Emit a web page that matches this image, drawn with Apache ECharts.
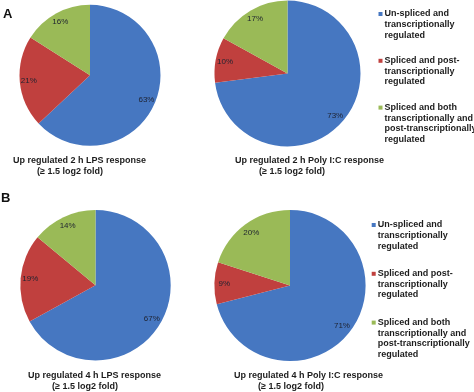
<!DOCTYPE html>
<html>
<head>
<meta charset="utf-8">
<script src="https://cdn.jsdelivr.net/npm/echarts@6/dist/echarts.min.js"></script>
<style>
html,body{margin:0;padding:0;background:#fff;}
#chart{width:474px;height:392px;}
</style>
</head>
<body>
<div id="chart"></div>
<script>
// ---- data ----
const categories = [
  'Un-spliced and\ntranscriptionally\nregulated',
  'Spliced and post-\ntranscriptionally\nregulated',
  'Spliced and both\ntranscriptionally and\npost-transcriptionally\nregulated'
];
const lps2h = [63, 21, 16];
const polyIC2h = [73, 10, 17];
const lps4h = [67, 19, 14];
const polyIC4h = [71, 9, 20];
const panelLetters = ['A', 'B'];
const captionLine1 = [
  'Up regulated 2 h LPS response',
  'Up regulated 2 h Poly I:C response',
  'Up regulated 4 h LPS response',
  'Up regulated 4 h Poly I:C response'
];
const captionLine2 = '(\u2265 1.5 log2 fold)';

// ---- styles / layout ----
const colors = ['#4677C1', '#C0403E', '#9ABA57'];
const FONT = '"Liberation Sans", Arial, sans-serif';
const pies = [
  { values: lps2h,    center: [90, 75.3],  r: 70.5 },
  { values: polyIC2h, center: [287.5, 73.5], r: 73 },
  { values: lps4h,    center: [95.5, 285.3], r: 75.2 },
  { values: polyIC4h, center: [290, 285.5], r: 75.6 }
];
const captionPos = [
  [[13, 160.7], [37, 171.2]],
  [[235, 160.7], [259, 171.2]],
  [[28, 375.7], [52, 386.2]],
  [[234, 375.7], [258, 386.2]]
];
const letterPos = [[3, 14], [1, 198]];

const series = [];
pies.forEach((p) => {
  const data = categories.map((n, i) => ({ name: n, value: p.values[i] }));
  series.push({
    type: 'pie', center: p.center, radius: [0, p.r],
    startAngle: 90, clockwise: true, silent: true, animation: false,
    label: { show: false }, labelLine: { show: false },
    itemStyle: { borderWidth: 0 },
    data: data
  });
  series.push({
    type: 'pie', center: p.center, radius: [p.r * 0.66, p.r],
    startAngle: 90, clockwise: true, silent: true, animation: false,
    itemStyle: { color: 'rgba(0,0,0,0)', borderWidth: 0 },
    label: { show: true, position: 'inside', formatter: '{c}%',
             fontSize: 8, fontFamily: FONT, color: '#1e2230' },
    labelLine: { show: false },
    data: data
  });
});

const rich = {
  s: { width: 6, lineHeight: 10.6 },
  t: { fontSize: 9, fontWeight: 'bold', fontFamily: FONT, color: '#1c1c1c', lineHeight: 10.6 }
};
colors.forEach((c, i) => {
  rich['m' + i] = { width: 4, height: 4, backgroundColor: c, lineHeight: 10.6 };
});
rich.g = { width: 2, lineHeight: 10.6 };

function legendFormatter(name) {
  const idx = categories.indexOf(name);
  return name.split('\n').map((l, k) =>
    (k === 0 ? '{m' + idx + '| }{g| }' : '{s| }') + '{t|' + l + '}'
  ).join('\n');
}
function makeLegend(left, top, gap) {
  return {
    orient: 'vertical', left: left, top: top, padding: 0, itemGap: gap,
    icon: 'none', itemWidth: 0, itemHeight: 0, selectedMode: false,
    data: categories, formatter: legendFormatter,
    textStyle: { fontSize: 9, fontWeight: 'bold', fontFamily: FONT, color: '#1c1c1c', lineHeight: 10.6, rich: rich }
  };
}

const graphics = [];
panelLetters.forEach((L, i) => {
  graphics.push({ type: 'text', x: letterPos[i][0], y: letterPos[i][1],
    style: { text: L, font: 'bold 13px ' + FONT, fill: '#111', verticalAlign: 'middle' } });
});
captionLine1.forEach((t, i) => {
  graphics.push({ type: 'text', x: captionPos[i][0][0], y: captionPos[i][0][1],
    style: { text: t, font: 'bold 9px ' + FONT, fill: '#1c1c1c', verticalAlign: 'middle' } });
  graphics.push({ type: 'text', x: captionPos[i][1][0], y: captionPos[i][1][1],
    style: { text: captionLine2, font: 'bold 9px ' + FONT, fill: '#1c1c1c', verticalAlign: 'middle' } });
});

const chart = echarts.init(document.getElementById('chart'), null, { renderer: 'canvas' });
chart.setOption({
  animation: false,
  color: colors,
  legend: [makeLegend(373.5, 8.7, 15), makeLegend(366.7, 219.7, 17)],
  series: series,
  graphic: graphics
});
</script>
</body>
</html>
